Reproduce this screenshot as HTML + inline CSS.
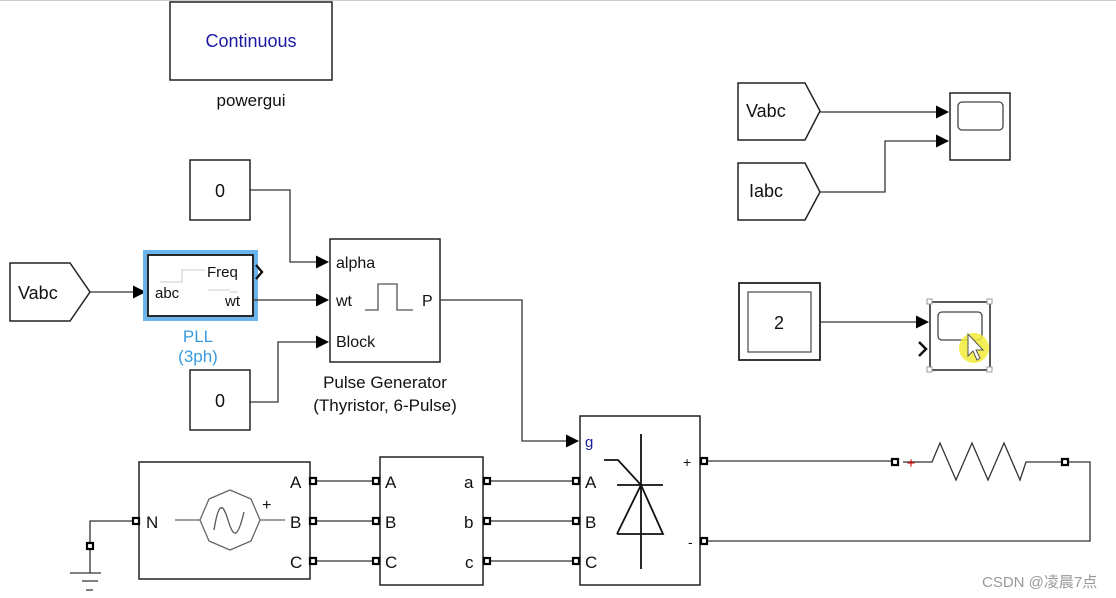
<!DOCTYPE html>
<html><head><meta charset="utf-8"><style>
html,body{margin:0;padding:0;background:#fff;}
svg{display:block;font-family:"Liberation Sans","Noto Sans CJK SC",sans-serif;}
</style></head><body>
<svg width="1116" height="598" viewBox="0 0 1116 598" xmlns="http://www.w3.org/2000/svg">
<defs>
<marker id="ar" markerWidth="13" markerHeight="13" refX="12" refY="6.5" orient="auto" markerUnits="userSpaceOnUse">
<path d="M0,0 L13,6.5 L0,13 z" fill="#000"/></marker>
</defs>
<line x1="0" y1="0.5" x2="1116" y2="0.5" stroke="#ccc"/>
<g fill="none" stroke="#333" stroke-width="1.3">
<rect x="170" y="2" width="162" height="78" stroke="#222" stroke-width="1.5"/>
<rect x="190" y="160" width="60" height="60" stroke="#222" stroke-width="1.5"/>
<rect x="190" y="370" width="60" height="60" stroke="#222" stroke-width="1.5"/>
<path d="M250,190 H290 V262 H328" marker-end="url(#ar)"/>
<path d="M250,402 H278 V342 H328" marker-end="url(#ar)"/>
<path d="M10,263 H70 L90,292 L70,321 H10 Z" stroke="#222" stroke-width="1.5"/>
<path d="M90,292 H145" marker-end="url(#ar)"/>
<rect x="145" y="252" width="111" height="67" stroke="#6ab4ee" stroke-width="4"/>
<rect x="148" y="255" width="105" height="61" stroke="#111" stroke-width="1.8"/>
<path d="M160,282 H182 V270 H205 M208,290 H230 M230,292 H238" stroke="#ccc" stroke-width="1"/>
<path d="M256,265 L262,272 L256,279" stroke="#111" stroke-width="2.4"/>
<path d="M253,300 H328" marker-end="url(#ar)"/>
<rect x="330" y="239" width="110" height="123" stroke="#222" stroke-width="1.5"/>
<path d="M365,310 H378 V284 H397 V310 H413" stroke="#555"/>
<path d="M440,300 H522 V441 H578" marker-end="url(#ar)"/>
<rect x="139" y="462" width="171" height="117" stroke="#222" stroke-width="1.5"/>
<path d="M230,490 L251,499 L260,520 L251,541 L230,550 L209,541 L200,520 L209,499 Z" stroke="#666"/>
<path d="M214,530 C218,505 222,500 228,520 C234,540 238,537 244,512" stroke="#555"/>
<path d="M175,520 H200 M260,520 H285" stroke="#666"/>
<path d="M136,521 H90 V546 M90,546 V573 M70,573 H101 M82,581 H98 M86,590 H93"/>
<path d="M313,481 H376 M313,521 H376 M313,561 H376"/>
<rect x="380" y="457" width="103" height="128" stroke="#222" stroke-width="1.5"/>
<path d="M487,481 H576 M487,521 H576 M487,561 H576"/>
<rect x="580" y="416" width="120" height="169" stroke="#222" stroke-width="1.5"/>
<path d="M641,434 V569 M617,485 H663 M617,534 H663 L641,485 L617,534" stroke="#111" stroke-width="1.8"/>
<path d="M604,460 H618 L641,485" stroke="#111" stroke-width="1.8"/>
<path d="M704,461 H895"/>
<path d="M903,462 H932 L940,443 L956,480 L972,443 L988,480 L1004,443 L1020,480 L1026,462 H1065"/>
<path d="M1065,462 H1090 V541 H704"/>
<path d="M738,83 H805 L820,111 L805,140 H738 Z" stroke="#222" stroke-width="1.5"/>
<path d="M738,163 H805 L820,192 L805,220 H738 Z" stroke="#222" stroke-width="1.5"/>
<path d="M820,112 H948" marker-end="url(#ar)"/>
<path d="M820,192 H885 V141 H948" marker-end="url(#ar)"/>
<rect x="950" y="93" width="60" height="67" stroke="#222" stroke-width="1.5"/>
<rect x="958" y="102" width="45" height="28" rx="4" stroke="#444"/>
<rect x="739" y="283" width="81" height="77" stroke="#222" stroke-width="1.8"/>
<rect x="748" y="292" width="63" height="60" stroke="#555"/>
<path d="M820,322 H928" marker-end="url(#ar)"/>
<rect x="930" y="302" width="60" height="68" stroke="#222" stroke-width="1.5"/>
<rect x="938" y="312" width="44" height="28" rx="4" stroke="#444"/>
<path d="M919,342 L926,349 L919,356" stroke="#111" stroke-width="2.5"/>
</g>
<g fill="#fff" stroke="#000" stroke-width="2.2">
<rect x="310" y="478" width="6" height="6"/><rect x="310" y="518" width="6" height="6"/><rect x="310" y="558" width="6" height="6"/>
<rect x="133" y="518" width="6" height="6"/><rect x="87" y="543" width="6" height="6"/>
<rect x="373" y="478" width="6" height="6"/><rect x="373" y="518" width="6" height="6"/><rect x="373" y="558" width="6" height="6"/>
<rect x="484" y="478" width="6" height="6"/><rect x="484" y="518" width="6" height="6"/><rect x="484" y="558" width="6" height="6"/>
<rect x="573" y="478" width="6" height="6"/><rect x="573" y="518" width="6" height="6"/><rect x="573" y="558" width="6" height="6"/>
<rect x="701" y="458" width="6" height="6"/><rect x="701" y="538" width="6" height="6"/>
<rect x="892" y="459" width="6" height="6"/><rect x="1062" y="459" width="6" height="6"/>
</g>
<g fill="#fff" stroke="#999" stroke-width="1"><rect x="927" y="299" width="5" height="5"/><rect x="987" y="299" width="5" height="5"/><rect x="927" y="367" width="5" height="5"/><rect x="987" y="367" width="5" height="5"/></g>
<circle cx="974" cy="348" r="15" fill="#f3ec3a" opacity="0.85"/>
<path d="M968,334 L968,356 L973,351 L977,360 L980,358 L976,350 L983,350 Z" fill="#fff" stroke="#555" stroke-width="1"/>
<g font-size="17" fill="#111">
<text x="251" y="47" text-anchor="middle" fill="#1a1aa0" font-size="18">Continuous</text>
<text x="251" y="106" text-anchor="middle">powergui</text>
<text x="220" y="197" text-anchor="middle" font-size="18">0</text>
<text x="220" y="407" text-anchor="middle" font-size="18">0</text>
<text x="18" y="299" font-size="18">Vabc</text>
<text x="155" y="298" font-size="15">abc</text>
<text x="207" y="277" font-size="15">Freq</text>
<text x="225" y="306" font-size="15">wt</text>
<text x="198" y="342" text-anchor="middle" fill="#3a9be0">PLL</text>
<text x="198" y="362" text-anchor="middle" fill="#3a9be0">(3ph)</text>
<text x="336" y="268" font-size="16">alpha</text>
<text x="336" y="306" font-size="16">wt</text>
<text x="336" y="347" font-size="16">Block</text>
<text x="422" y="306" font-size="16">P</text>
<text x="385" y="388" text-anchor="middle">Pulse Generator</text>
<text x="385" y="411" text-anchor="middle">(Thyristor, 6-Pulse)</text>
<text x="290" y="488">A</text><text x="290" y="528">B</text><text x="290" y="568">C</text>
<text x="146" y="528">N</text>
<text x="262" y="510" font-size="16">+</text>
<text x="385" y="488">A</text><text x="385" y="528">B</text><text x="385" y="568">C</text>
<text x="464" y="488">a</text><text x="464" y="528">b</text><text x="465" y="568">c</text>
<text x="585" y="488">A</text><text x="585" y="528">B</text><text x="585" y="568">C</text>
<text x="585" y="447" fill="#1a1aa0" font-size="15">g</text>
<text x="683" y="467" font-size="14">+</text>
<text x="688" y="547" font-size="14">-</text>
<text x="911" y="468" fill="#d00" font-size="15" text-anchor="middle">+</text>
<text x="746" y="117" font-size="18">Vabc</text>
<text x="749" y="197" font-size="18">Iabc</text>
<text x="779" y="329" text-anchor="middle" font-size="18">2</text>
<text x="982" y="587" font-size="15" fill="#999">CSDN @凌晨7点</text>
</g>
</svg>
</body></html>
